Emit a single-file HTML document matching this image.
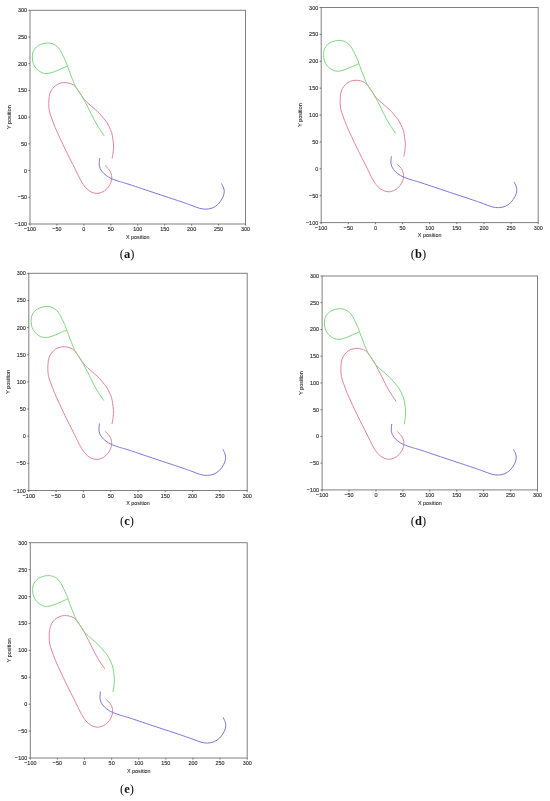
<!DOCTYPE html>
<html><head><meta charset="utf-8"><style>
html,body{margin:0;padding:0;background:#fff;}
body{width:550px;height:801px;overflow:hidden;}
svg.main{display:block;}
.t{font-family:"Liberation Sans",sans-serif;font-size:5.40px;fill:#2e2e2e;stroke:#2e2e2e;stroke-width:0.08px;}
.tk{font-size:5.45px;fill:#2a2a2a;stroke:#2a2a2a;stroke-width:0.12px;}
.cap{font-family:"Liberation Serif",serif;font-size:12.5px;fill:#111;}
</style></head><body>
<svg class="main" width="550" height="801" viewBox="0 0 550 801">
<svg x="30.00" y="10.30" width="215.50" height="213.70" viewBox="0 0 400 400" preserveAspectRatio="none" overflow="visible">
<path d="M139.3 290.8 C140.6 292.1 145.4 295.9 147.4 299.0 C149.5 302.0 151.0 305.3 151.5 309.1 C152.0 312.8 151.8 317.3 150.4 321.4 C149.0 325.5 146.2 330.3 143.3 333.5 C140.5 336.8 136.5 339.3 133.1 340.8 C129.8 342.3 126.5 342.9 123.1 342.7 C119.8 342.5 116.3 341.5 112.9 339.7 C109.6 337.8 105.9 334.9 102.9 331.5 C99.9 328.1 97.8 324.7 94.8 319.3 C91.7 313.9 88.1 305.8 84.7 299.0 C81.4 292.2 77.7 284.9 74.5 278.6 C71.4 272.4 69.1 267.9 66.0 261.4 C62.9 255.0 59.2 247.0 56.0 240.0 C52.8 233.0 49.4 225.8 46.7 219.4 C44.1 213.0 41.9 206.9 40.1 201.7 C38.2 196.5 36.7 192.6 35.8 188.0 C34.9 183.5 34.9 179.1 34.9 174.6 C34.9 170.1 35.1 165.0 35.8 161.0 C36.5 157.0 37.6 153.7 39.1 150.7 C40.7 147.7 42.7 145.3 45.1 143.0 C47.4 140.8 50.5 138.7 53.4 137.4 C56.3 136.2 59.6 135.6 62.7 135.4 C65.8 135.2 69.0 135.6 72.0 136.3 C74.9 137.0 78.2 138.3 80.5 139.7 C82.7 141.1 83.8 142.7 85.5 144.7 C87.2 146.7 88.8 149.2 90.5 151.6 C92.2 154.1 94.0 156.7 95.7 159.3 C97.4 161.8 98.7 164.6 100.7 166.9 C102.6 169.3 105.1 171.6 107.4 173.7 C109.6 175.8 112.0 177.7 114.2 179.6 C116.5 181.6 118.4 183.3 120.9 185.6 C123.4 187.9 126.7 190.6 129.3 193.3 C131.8 196.0 134.0 199.0 136.1 201.7 C138.3 204.3 140.4 206.4 142.2 209.2 C144.0 211.9 145.3 214.7 146.9 217.9 C148.4 221.2 150.4 225.1 151.5 228.8 C152.6 232.4 153.0 235.9 153.5 239.8 C154.1 243.7 154.9 248.0 155.0 252.1 C155.2 256.2 154.9 260.0 154.5 264.2 C154.0 268.5 152.8 275.3 152.4 277.5" fill="none" stroke="#e48496" stroke-width="1.0" vector-effect="non-scaling-stroke"/>
<path d="M69.5 104.4 C67.2 105.4 59.9 108.5 55.6 110.4 C51.4 112.2 47.9 114.1 43.9 115.4 C40.0 116.7 35.8 118.2 32.1 118.4 C28.4 118.6 25.3 118.2 21.9 116.7 C18.5 115.2 14.5 112.3 11.9 109.4 C9.2 106.5 7.2 103.0 5.9 99.3 C4.7 95.7 4.3 91.1 4.3 87.4 C4.3 83.7 4.7 80.4 5.9 77.3 C7.2 74.2 9.5 71.0 11.9 68.7 C14.2 66.4 16.8 65.0 20.2 63.7 C23.6 62.4 28.4 61.2 32.1 61.1 C35.7 60.9 39.0 61.6 42.1 62.7 C45.2 63.9 48.2 65.8 50.6 68.0 C53.0 70.1 54.7 72.7 56.6 75.6 C58.4 78.6 60.0 82.6 61.6 85.7 C63.1 88.8 64.5 91.2 65.8 94.3 C67.2 97.4 67.9 99.9 69.5 104.4 C71.2 108.9 73.7 115.9 75.8 121.4 C77.9 126.9 80.4 133.2 82.2 137.3 C83.9 141.3 85.0 143.1 86.4 145.7 C87.9 148.2 89.3 150.0 90.9 152.4 C92.4 154.8 94.1 157.3 95.7 160.0 C97.3 162.7 98.7 165.1 100.7 168.6 C102.6 172.2 105.1 176.9 107.4 181.3 C109.6 185.7 112.1 190.7 114.2 195.0 C116.3 199.2 117.8 202.6 120.0 206.7 C122.2 210.8 124.5 214.8 127.4 219.4 C130.3 224.0 135.7 231.9 137.4 234.4" fill="none" stroke="#80d680" stroke-width="1.0" vector-effect="non-scaling-stroke"/>
<path d="M129.3 276.6 C129.2 278.9 128.0 286.7 128.7 290.8 C129.3 294.8 131.0 298.0 133.1 301.0 C135.2 304.1 138.2 306.7 141.3 309.1 C144.4 311.4 147.5 313.4 151.5 315.2 C155.6 317.1 159.9 318.4 165.6 320.3 C171.3 322.1 174.7 322.8 185.8 326.4 C196.9 330.1 216.7 336.9 232.2 342.1 C247.6 347.3 267.4 353.8 278.5 357.6 C289.6 361.4 292.7 362.5 298.7 364.7 C304.8 366.9 310.2 369.4 314.9 370.7 C319.6 371.9 323.1 372.3 327.1 372.2 C331.2 372.0 335.5 371.3 339.2 369.7 C342.9 368.2 346.3 365.7 349.4 362.7 C352.4 359.6 355.5 355.1 357.3 351.4 C359.2 347.8 360.2 343.7 360.5 340.6 C360.8 337.5 360.2 335.5 359.4 332.8 C358.6 330.0 356.1 325.6 355.5 324.2" fill="none" stroke="#7b76de" stroke-width="1.0" vector-effect="non-scaling-stroke"/>
</svg>
<rect x="30.00" y="10.30" width="215.50" height="213.70" fill="none" stroke="#808080" stroke-width="1"/>
<path d="M30.00 224.00v1.6 M30.00 224.00h-1.6 M56.94 224.00v1.6 M30.00 197.29h-1.6 M83.88 224.00v1.6 M30.00 170.57h-1.6 M110.81 224.00v1.6 M30.00 143.86h-1.6 M137.75 224.00v1.6 M30.00 117.15h-1.6 M164.69 224.00v1.6 M30.00 90.44h-1.6 M191.62 224.00v1.6 M30.00 63.73h-1.6 M218.56 224.00v1.6 M30.00 37.01h-1.6 M245.50 224.00v1.6 M30.00 10.30h-1.6" stroke="#555" stroke-width="0.8" fill="none"/>
<text transform="translate(30.00 231.00) scale(1 1.15)" text-anchor="middle" class="t tk">−100</text>
<text transform="translate(27.00 226.00) scale(1 1.15)" text-anchor="end" class="t tk">−100</text>
<text transform="translate(56.94 231.00) scale(1 1.15)" text-anchor="middle" class="t tk">−50</text>
<text transform="translate(27.00 199.29) scale(1 1.15)" text-anchor="end" class="t tk">−50</text>
<text transform="translate(83.88 231.00) scale(1 1.15)" text-anchor="middle" class="t tk">0</text>
<text transform="translate(27.00 172.57) scale(1 1.15)" text-anchor="end" class="t tk">0</text>
<text transform="translate(110.81 231.00) scale(1 1.15)" text-anchor="middle" class="t tk">50</text>
<text transform="translate(27.00 145.86) scale(1 1.15)" text-anchor="end" class="t tk">50</text>
<text transform="translate(137.75 231.00) scale(1 1.15)" text-anchor="middle" class="t tk">100</text>
<text transform="translate(27.00 119.15) scale(1 1.15)" text-anchor="end" class="t tk">100</text>
<text transform="translate(164.69 231.00) scale(1 1.15)" text-anchor="middle" class="t tk">150</text>
<text transform="translate(27.00 92.44) scale(1 1.15)" text-anchor="end" class="t tk">150</text>
<text transform="translate(191.62 231.00) scale(1 1.15)" text-anchor="middle" class="t tk">200</text>
<text transform="translate(27.00 65.73) scale(1 1.15)" text-anchor="end" class="t tk">200</text>
<text transform="translate(218.56 231.00) scale(1 1.15)" text-anchor="middle" class="t tk">250</text>
<text transform="translate(27.00 39.01) scale(1 1.15)" text-anchor="end" class="t tk">250</text>
<text transform="translate(245.50 231.00) scale(1 1.15)" text-anchor="middle" class="t tk">300</text>
<text transform="translate(27.00 12.30) scale(1 1.15)" text-anchor="end" class="t tk">300</text>
<text x="137.75" y="238.70" text-anchor="middle" class="t">X position</text>
<text transform="translate(10.80 117.15) rotate(-90)" text-anchor="middle" class="t">Y position</text>
<text x="127.00" y="257.80" text-anchor="middle" class="cap">(<tspan font-weight="bold">a</tspan>)</text>
<svg x="321.20" y="7.50" width="217.00" height="215.10" viewBox="0 0 400 400" preserveAspectRatio="none" overflow="visible">
<path d="M139.3 290.8 C140.6 292.1 145.4 295.9 147.4 299.0 C149.5 302.0 151.0 305.3 151.5 309.1 C152.0 312.8 151.8 317.3 150.4 321.4 C149.0 325.5 146.2 330.3 143.3 333.5 C140.5 336.8 136.5 339.3 133.1 340.8 C129.8 342.3 126.5 342.9 123.1 342.7 C119.8 342.5 116.3 341.5 112.9 339.7 C109.6 337.8 105.9 334.9 102.9 331.5 C99.9 328.1 97.8 324.7 94.8 319.3 C91.7 313.9 88.1 305.8 84.7 299.0 C81.4 292.2 77.7 284.9 74.5 278.6 C71.4 272.4 69.1 267.9 66.0 261.4 C62.9 255.0 59.2 247.0 56.0 240.0 C52.8 233.0 49.4 225.8 46.7 219.4 C44.1 213.0 41.9 206.9 40.1 201.7 C38.2 196.5 36.7 192.6 35.8 188.0 C34.9 183.5 34.9 179.1 34.9 174.6 C34.9 170.1 35.1 165.0 35.8 161.0 C36.5 157.0 37.6 153.7 39.1 150.7 C40.7 147.7 42.7 145.3 45.1 143.0 C47.4 140.8 50.5 138.7 53.4 137.4 C56.3 136.2 59.6 135.6 62.7 135.4 C65.8 135.2 69.0 135.6 72.0 136.3 C74.9 137.0 78.2 138.3 80.5 139.7 C82.7 141.1 83.8 142.7 85.5 144.7 C87.2 146.7 88.8 149.2 90.5 151.6 C92.2 154.1 94.0 156.7 95.7 159.3 C97.4 161.8 98.7 164.6 100.7 166.9 C102.6 169.3 105.1 171.6 107.4 173.7 C109.6 175.8 112.0 177.7 114.2 179.6 C116.5 181.6 118.4 183.3 120.9 185.6 C123.4 187.9 126.7 190.6 129.3 193.3 C131.8 196.0 134.0 199.0 136.1 201.7 C138.3 204.3 140.4 206.4 142.2 209.2 C144.0 211.9 145.3 214.7 146.9 217.9 C148.4 221.2 150.4 225.1 151.5 228.8 C152.6 232.4 153.0 235.9 153.5 239.8 C154.1 243.7 154.9 248.0 155.0 252.1 C155.2 256.2 154.9 260.0 154.5 264.2 C154.0 268.5 152.8 275.3 152.4 277.5" fill="none" stroke="#e48496" stroke-width="1.0" vector-effect="non-scaling-stroke"/>
<path d="M69.5 104.4 C67.2 105.4 59.9 108.5 55.6 110.4 C51.4 112.2 47.9 114.1 43.9 115.4 C40.0 116.7 35.8 118.2 32.1 118.4 C28.4 118.6 25.3 118.2 21.9 116.7 C18.5 115.2 14.5 112.3 11.9 109.4 C9.2 106.5 7.2 103.0 5.9 99.3 C4.7 95.7 4.3 91.1 4.3 87.4 C4.3 83.7 4.7 80.4 5.9 77.3 C7.2 74.2 9.5 71.0 11.9 68.7 C14.2 66.4 16.8 65.0 20.2 63.7 C23.6 62.4 28.4 61.2 32.1 61.1 C35.7 60.9 39.0 61.6 42.1 62.7 C45.2 63.9 48.2 65.8 50.6 68.0 C53.0 70.1 54.7 72.7 56.6 75.6 C58.4 78.6 60.0 82.6 61.6 85.7 C63.1 88.8 64.5 91.2 65.8 94.3 C67.2 97.4 67.9 99.9 69.5 104.4 C71.2 108.9 73.7 115.9 75.8 121.4 C77.9 126.9 80.4 133.2 82.2 137.3 C83.9 141.3 85.0 143.1 86.4 145.7 C87.9 148.2 89.3 150.0 90.9 152.4 C92.4 154.8 94.1 157.3 95.7 160.0 C97.3 162.7 98.7 165.1 100.7 168.6 C102.6 172.2 105.1 176.9 107.4 181.3 C109.6 185.7 112.1 190.7 114.2 195.0 C116.3 199.2 117.8 202.6 120.0 206.7 C122.2 210.8 124.5 214.8 127.4 219.4 C130.3 224.0 135.7 231.9 137.4 234.4" fill="none" stroke="#80d680" stroke-width="1.0" vector-effect="non-scaling-stroke"/>
<path d="M129.3 276.6 C129.2 278.9 128.0 286.7 128.7 290.8 C129.3 294.8 131.0 298.0 133.1 301.0 C135.2 304.1 138.2 306.7 141.3 309.1 C144.4 311.4 147.5 313.4 151.5 315.2 C155.6 317.1 159.9 318.4 165.6 320.3 C171.3 322.1 174.7 322.8 185.8 326.4 C196.9 330.1 216.7 336.9 232.2 342.1 C247.6 347.3 267.4 353.8 278.5 357.6 C289.6 361.4 292.7 362.5 298.7 364.7 C304.8 366.9 310.2 369.4 314.9 370.7 C319.6 371.9 323.1 372.3 327.1 372.2 C331.2 372.0 335.5 371.3 339.2 369.7 C342.9 368.2 346.3 365.7 349.4 362.7 C352.4 359.6 355.5 355.1 357.3 351.4 C359.2 347.8 360.2 343.7 360.5 340.6 C360.8 337.5 360.2 335.5 359.4 332.8 C358.6 330.0 356.1 325.6 355.5 324.2" fill="none" stroke="#7b76de" stroke-width="1.0" vector-effect="non-scaling-stroke"/>
</svg>
<rect x="321.20" y="7.50" width="217.00" height="215.10" fill="none" stroke="#808080" stroke-width="1"/>
<path d="M321.20 222.60v1.6 M321.20 222.60h-1.6 M348.32 222.60v1.6 M321.20 195.71h-1.6 M375.45 222.60v1.6 M321.20 168.82h-1.6 M402.58 222.60v1.6 M321.20 141.94h-1.6 M429.70 222.60v1.6 M321.20 115.05h-1.6 M456.83 222.60v1.6 M321.20 88.16h-1.6 M483.95 222.60v1.6 M321.20 61.28h-1.6 M511.08 222.60v1.6 M321.20 34.39h-1.6 M538.20 222.60v1.6 M321.20 7.50h-1.6" stroke="#555" stroke-width="0.8" fill="none"/>
<text transform="translate(321.20 229.60) scale(1 1.15)" text-anchor="middle" class="t tk">−100</text>
<text transform="translate(318.20 224.60) scale(1 1.15)" text-anchor="end" class="t tk">−100</text>
<text transform="translate(348.32 229.60) scale(1 1.15)" text-anchor="middle" class="t tk">−50</text>
<text transform="translate(318.20 197.71) scale(1 1.15)" text-anchor="end" class="t tk">−50</text>
<text transform="translate(375.45 229.60) scale(1 1.15)" text-anchor="middle" class="t tk">0</text>
<text transform="translate(318.20 170.82) scale(1 1.15)" text-anchor="end" class="t tk">0</text>
<text transform="translate(402.58 229.60) scale(1 1.15)" text-anchor="middle" class="t tk">50</text>
<text transform="translate(318.20 143.94) scale(1 1.15)" text-anchor="end" class="t tk">50</text>
<text transform="translate(429.70 229.60) scale(1 1.15)" text-anchor="middle" class="t tk">100</text>
<text transform="translate(318.20 117.05) scale(1 1.15)" text-anchor="end" class="t tk">100</text>
<text transform="translate(456.83 229.60) scale(1 1.15)" text-anchor="middle" class="t tk">150</text>
<text transform="translate(318.20 90.16) scale(1 1.15)" text-anchor="end" class="t tk">150</text>
<text transform="translate(483.95 229.60) scale(1 1.15)" text-anchor="middle" class="t tk">200</text>
<text transform="translate(318.20 63.28) scale(1 1.15)" text-anchor="end" class="t tk">200</text>
<text transform="translate(511.08 229.60) scale(1 1.15)" text-anchor="middle" class="t tk">250</text>
<text transform="translate(318.20 36.39) scale(1 1.15)" text-anchor="end" class="t tk">250</text>
<text transform="translate(538.20 229.60) scale(1 1.15)" text-anchor="middle" class="t tk">300</text>
<text transform="translate(318.20 9.50) scale(1 1.15)" text-anchor="end" class="t tk">300</text>
<text x="429.70" y="237.30" text-anchor="middle" class="t">X position</text>
<text transform="translate(302.00 115.05) rotate(-90)" text-anchor="middle" class="t">Y position</text>
<text x="418.50" y="257.80" text-anchor="middle" class="cap">(<tspan font-weight="bold">b</tspan>)</text>
<svg x="28.80" y="273.30" width="218.40" height="217.20" viewBox="0 0 400 400" preserveAspectRatio="none" overflow="visible">
<path d="M139.3 290.8 C140.6 292.1 145.4 295.9 147.4 299.0 C149.5 302.0 151.0 305.3 151.5 309.1 C152.0 312.8 151.8 317.3 150.4 321.4 C149.0 325.5 146.2 330.3 143.3 333.5 C140.5 336.8 136.5 339.3 133.1 340.8 C129.8 342.3 126.5 342.9 123.1 342.7 C119.8 342.5 116.3 341.5 112.9 339.7 C109.6 337.8 105.9 334.9 102.9 331.5 C99.9 328.1 97.8 324.7 94.8 319.3 C91.7 313.9 88.1 305.8 84.7 299.0 C81.4 292.2 77.7 284.9 74.5 278.6 C71.4 272.4 69.1 267.9 66.0 261.4 C62.9 255.0 59.2 247.0 56.0 240.0 C52.8 233.0 49.4 225.8 46.7 219.4 C44.1 213.0 41.9 206.9 40.1 201.7 C38.2 196.5 36.7 192.6 35.8 188.0 C34.9 183.5 34.9 179.1 34.9 174.6 C34.9 170.1 35.1 165.0 35.8 161.0 C36.5 157.0 37.6 153.7 39.1 150.7 C40.7 147.7 42.7 145.3 45.1 143.0 C47.4 140.8 50.5 138.7 53.4 137.4 C56.3 136.2 59.6 135.6 62.7 135.4 C65.8 135.2 69.0 135.6 72.0 136.3 C74.9 137.0 78.2 138.3 80.5 139.7 C82.7 141.1 83.8 142.7 85.5 144.7 C87.2 146.7 88.8 149.2 90.5 151.6 C92.2 154.1 94.0 156.7 95.7 159.3 C97.4 161.8 98.7 164.6 100.7 166.9 C102.6 169.3 105.1 171.6 107.4 173.7 C109.6 175.8 112.0 177.7 114.2 179.6 C116.5 181.6 118.4 183.3 120.9 185.6 C123.4 187.9 126.7 190.6 129.3 193.3 C131.8 196.0 134.0 199.0 136.1 201.7 C138.3 204.3 140.4 206.4 142.2 209.2 C144.0 211.9 145.3 214.7 146.9 217.9 C148.4 221.2 150.4 225.1 151.5 228.8 C152.6 232.4 153.0 235.9 153.5 239.8 C154.1 243.7 154.9 248.0 155.0 252.1 C155.2 256.2 154.9 260.0 154.5 264.2 C154.0 268.5 152.8 275.3 152.4 277.5" fill="none" stroke="#e48496" stroke-width="1.0" vector-effect="non-scaling-stroke"/>
<path d="M69.5 104.4 C67.2 105.4 59.9 108.5 55.6 110.4 C51.4 112.2 47.9 114.1 43.9 115.4 C40.0 116.7 35.8 118.2 32.1 118.4 C28.4 118.6 25.3 118.2 21.9 116.7 C18.5 115.2 14.5 112.3 11.9 109.4 C9.2 106.5 7.2 103.0 5.9 99.3 C4.7 95.7 4.3 91.1 4.3 87.4 C4.3 83.7 4.7 80.4 5.9 77.3 C7.2 74.2 9.5 71.0 11.9 68.7 C14.2 66.4 16.8 65.0 20.2 63.7 C23.6 62.4 28.4 61.2 32.1 61.1 C35.7 60.9 39.0 61.6 42.1 62.7 C45.2 63.9 48.2 65.8 50.6 68.0 C53.0 70.1 54.7 72.7 56.6 75.6 C58.4 78.6 60.0 82.6 61.6 85.7 C63.1 88.8 64.5 91.2 65.8 94.3 C67.2 97.4 67.9 99.9 69.5 104.4 C71.2 108.9 73.7 115.9 75.8 121.4 C77.9 126.9 80.4 133.2 82.2 137.3 C83.9 141.3 85.0 143.1 86.4 145.7 C87.9 148.2 89.3 150.0 90.9 152.4 C92.4 154.8 94.1 157.3 95.7 160.0 C97.3 162.7 98.7 165.1 100.7 168.6 C102.6 172.2 105.1 176.9 107.4 181.3 C109.6 185.7 112.1 190.7 114.2 195.0 C116.3 199.2 117.8 202.6 120.0 206.7 C122.2 210.8 124.5 214.8 127.4 219.4 C130.3 224.0 135.7 231.9 137.4 234.4" fill="none" stroke="#80d680" stroke-width="1.0" vector-effect="non-scaling-stroke"/>
<path d="M129.3 276.6 C129.2 278.9 128.0 286.7 128.7 290.8 C129.3 294.8 131.0 298.0 133.1 301.0 C135.2 304.1 138.2 306.7 141.3 309.1 C144.4 311.4 147.5 313.4 151.5 315.2 C155.6 317.1 159.9 318.4 165.6 320.3 C171.3 322.1 174.7 322.8 185.8 326.4 C196.9 330.1 216.7 336.9 232.2 342.1 C247.6 347.3 267.4 353.8 278.5 357.6 C289.6 361.4 292.7 362.5 298.7 364.7 C304.8 366.9 310.2 369.4 314.9 370.7 C319.6 371.9 323.1 372.3 327.1 372.2 C331.2 372.0 335.5 371.3 339.2 369.7 C342.9 368.2 346.3 365.7 349.4 362.7 C352.4 359.6 355.5 355.1 357.3 351.4 C359.2 347.8 360.2 343.7 360.5 340.6 C360.8 337.5 360.2 335.5 359.4 332.8 C358.6 330.0 356.1 325.6 355.5 324.2" fill="none" stroke="#7b76de" stroke-width="1.0" vector-effect="non-scaling-stroke"/>
</svg>
<rect x="28.80" y="273.30" width="218.40" height="217.20" fill="none" stroke="#808080" stroke-width="1"/>
<path d="M28.80 490.50v1.6 M28.80 490.50h-1.6 M56.10 490.50v1.6 M28.80 463.35h-1.6 M83.40 490.50v1.6 M28.80 436.20h-1.6 M110.70 490.50v1.6 M28.80 409.05h-1.6 M138.00 490.50v1.6 M28.80 381.90h-1.6 M165.30 490.50v1.6 M28.80 354.75h-1.6 M192.60 490.50v1.6 M28.80 327.60h-1.6 M219.90 490.50v1.6 M28.80 300.45h-1.6 M247.20 490.50v1.6 M28.80 273.30h-1.6" stroke="#555" stroke-width="0.8" fill="none"/>
<text transform="translate(28.80 497.50) scale(1 1.15)" text-anchor="middle" class="t tk">−100</text>
<text transform="translate(25.80 492.50) scale(1 1.15)" text-anchor="end" class="t tk">−100</text>
<text transform="translate(56.10 497.50) scale(1 1.15)" text-anchor="middle" class="t tk">−50</text>
<text transform="translate(25.80 465.35) scale(1 1.15)" text-anchor="end" class="t tk">−50</text>
<text transform="translate(83.40 497.50) scale(1 1.15)" text-anchor="middle" class="t tk">0</text>
<text transform="translate(25.80 438.20) scale(1 1.15)" text-anchor="end" class="t tk">0</text>
<text transform="translate(110.70 497.50) scale(1 1.15)" text-anchor="middle" class="t tk">50</text>
<text transform="translate(25.80 411.05) scale(1 1.15)" text-anchor="end" class="t tk">50</text>
<text transform="translate(138.00 497.50) scale(1 1.15)" text-anchor="middle" class="t tk">100</text>
<text transform="translate(25.80 383.90) scale(1 1.15)" text-anchor="end" class="t tk">100</text>
<text transform="translate(165.30 497.50) scale(1 1.15)" text-anchor="middle" class="t tk">150</text>
<text transform="translate(25.80 356.75) scale(1 1.15)" text-anchor="end" class="t tk">150</text>
<text transform="translate(192.60 497.50) scale(1 1.15)" text-anchor="middle" class="t tk">200</text>
<text transform="translate(25.80 329.60) scale(1 1.15)" text-anchor="end" class="t tk">200</text>
<text transform="translate(219.90 497.50) scale(1 1.15)" text-anchor="middle" class="t tk">250</text>
<text transform="translate(25.80 302.45) scale(1 1.15)" text-anchor="end" class="t tk">250</text>
<text transform="translate(247.20 497.50) scale(1 1.15)" text-anchor="middle" class="t tk">300</text>
<text transform="translate(25.80 275.30) scale(1 1.15)" text-anchor="end" class="t tk">300</text>
<text x="138.00" y="505.20" text-anchor="middle" class="t">X position</text>
<text transform="translate(9.60 381.90) rotate(-90)" text-anchor="middle" class="t">Y position</text>
<text x="127.00" y="524.80" text-anchor="middle" class="cap">(<tspan font-weight="bold">c</tspan>)</text>
<svg x="322.10" y="276.00" width="215.40" height="213.90" viewBox="0 0 400 400" preserveAspectRatio="none" overflow="visible">
<path d="M139.3 290.8 C140.6 292.1 145.4 295.9 147.4 299.0 C149.5 302.0 151.0 305.3 151.5 309.1 C152.0 312.8 151.8 317.3 150.4 321.4 C149.0 325.5 146.2 330.3 143.3 333.5 C140.5 336.8 136.5 339.3 133.1 340.8 C129.8 342.3 126.5 342.9 123.1 342.7 C119.8 342.5 116.3 341.5 112.9 339.7 C109.6 337.8 105.9 334.9 102.9 331.5 C99.9 328.1 97.8 324.7 94.8 319.3 C91.7 313.9 88.1 305.8 84.7 299.0 C81.4 292.2 77.7 284.9 74.5 278.6 C71.4 272.4 69.1 267.9 66.0 261.4 C62.9 255.0 59.2 247.0 56.0 240.0 C52.8 233.0 49.4 225.8 46.7 219.4 C44.1 213.0 41.9 206.9 40.1 201.7 C38.2 196.5 36.7 192.6 35.8 188.0 C34.9 183.5 34.9 179.1 34.9 174.6 C34.9 170.1 35.1 165.0 35.8 161.0 C36.5 157.0 37.6 153.7 39.1 150.7 C40.7 147.7 42.7 145.3 45.1 143.0 C47.4 140.8 50.5 138.7 53.4 137.4 C56.3 136.2 59.6 135.6 62.7 135.4 C65.8 135.2 69.0 135.6 72.0 136.3 C74.9 137.0 78.2 138.3 80.5 139.7 C82.7 141.1 83.8 142.7 85.5 144.7 C87.2 146.7 88.8 149.2 90.5 151.6 C92.2 154.1 94.0 156.5 95.7 159.3 C97.4 162.1 98.7 165.0 100.7 168.6 C102.6 172.3 105.1 176.9 107.4 181.3 C109.6 185.7 112.1 190.7 114.2 195.0 C116.3 199.2 117.8 202.6 120.0 206.7 C122.2 210.8 124.5 214.8 127.4 219.4 C130.3 224.0 135.7 231.9 137.4 234.4" fill="none" stroke="#e48496" stroke-width="1.0" vector-effect="non-scaling-stroke"/>
<path d="M69.5 104.4 C67.2 105.4 59.9 108.5 55.6 110.4 C51.4 112.2 47.9 114.1 43.9 115.4 C40.0 116.7 35.8 118.2 32.1 118.4 C28.4 118.6 25.3 118.2 21.9 116.7 C18.5 115.2 14.5 112.3 11.9 109.4 C9.2 106.5 7.2 103.0 5.9 99.3 C4.7 95.7 4.3 91.1 4.3 87.4 C4.3 83.7 4.7 80.4 5.9 77.3 C7.2 74.2 9.5 71.0 11.9 68.7 C14.2 66.4 16.8 65.0 20.2 63.7 C23.6 62.4 28.4 61.2 32.1 61.1 C35.7 60.9 39.0 61.6 42.1 62.7 C45.2 63.9 48.2 65.8 50.6 68.0 C53.0 70.1 54.7 72.7 56.6 75.6 C58.4 78.6 60.0 82.6 61.6 85.7 C63.1 88.8 64.5 91.2 65.8 94.3 C67.2 97.4 67.9 99.9 69.5 104.4 C71.2 108.9 73.7 115.9 75.8 121.4 C77.9 126.9 80.4 133.2 82.2 137.3 C83.9 141.3 85.0 143.1 86.4 145.7 C87.9 148.2 89.3 150.0 90.9 152.4 C92.4 154.8 94.1 157.6 95.7 160.0 C97.3 162.5 98.7 164.7 100.7 166.9 C102.6 169.2 105.1 171.6 107.4 173.7 C109.6 175.8 112.0 177.7 114.2 179.6 C116.5 181.6 118.4 183.3 120.9 185.6 C123.4 187.9 126.7 190.6 129.3 193.3 C131.8 196.0 134.0 199.0 136.1 201.7 C138.3 204.3 140.4 206.4 142.2 209.2 C144.0 211.9 145.3 214.7 146.9 217.9 C148.4 221.2 150.4 225.1 151.5 228.8 C152.6 232.4 153.0 235.9 153.5 239.8 C154.1 243.7 154.9 248.0 155.0 252.1 C155.2 256.2 154.9 260.0 154.5 264.2 C154.0 268.5 152.8 275.3 152.4 277.5" fill="none" stroke="#80d680" stroke-width="1.0" vector-effect="non-scaling-stroke"/>
<path d="M129.3 276.6 C129.2 278.9 128.0 286.7 128.7 290.8 C129.3 294.8 131.0 298.0 133.1 301.0 C135.2 304.1 138.2 306.7 141.3 309.1 C144.4 311.4 147.5 313.4 151.5 315.2 C155.6 317.1 159.9 318.4 165.6 320.3 C171.3 322.1 174.7 322.8 185.8 326.4 C196.9 330.1 216.7 336.9 232.2 342.1 C247.6 347.3 267.4 353.8 278.5 357.6 C289.6 361.4 292.7 362.5 298.7 364.7 C304.8 366.9 310.2 369.4 314.9 370.7 C319.6 371.9 323.1 372.3 327.1 372.2 C331.2 372.0 335.5 371.3 339.2 369.7 C342.9 368.2 346.3 365.7 349.4 362.7 C352.4 359.6 355.5 355.1 357.3 351.4 C359.2 347.8 360.2 343.7 360.5 340.6 C360.8 337.5 360.2 335.5 359.4 332.8 C358.6 330.0 356.1 325.6 355.5 324.2" fill="none" stroke="#7b76de" stroke-width="1.0" vector-effect="non-scaling-stroke"/>
</svg>
<rect x="322.10" y="276.00" width="215.40" height="213.90" fill="none" stroke="#808080" stroke-width="1"/>
<path d="M322.10 489.90v1.6 M322.10 489.90h-1.6 M349.03 489.90v1.6 M322.10 463.16h-1.6 M375.95 489.90v1.6 M322.10 436.42h-1.6 M402.88 489.90v1.6 M322.10 409.69h-1.6 M429.80 489.90v1.6 M322.10 382.95h-1.6 M456.73 489.90v1.6 M322.10 356.21h-1.6 M483.65 489.90v1.6 M322.10 329.48h-1.6 M510.57 489.90v1.6 M322.10 302.74h-1.6 M537.50 489.90v1.6 M322.10 276.00h-1.6" stroke="#555" stroke-width="0.8" fill="none"/>
<text transform="translate(322.10 496.90) scale(1 1.15)" text-anchor="middle" class="t tk">−100</text>
<text transform="translate(319.10 491.90) scale(1 1.15)" text-anchor="end" class="t tk">−100</text>
<text transform="translate(349.03 496.90) scale(1 1.15)" text-anchor="middle" class="t tk">−50</text>
<text transform="translate(319.10 465.16) scale(1 1.15)" text-anchor="end" class="t tk">−50</text>
<text transform="translate(375.95 496.90) scale(1 1.15)" text-anchor="middle" class="t tk">0</text>
<text transform="translate(319.10 438.42) scale(1 1.15)" text-anchor="end" class="t tk">0</text>
<text transform="translate(402.88 496.90) scale(1 1.15)" text-anchor="middle" class="t tk">50</text>
<text transform="translate(319.10 411.69) scale(1 1.15)" text-anchor="end" class="t tk">50</text>
<text transform="translate(429.80 496.90) scale(1 1.15)" text-anchor="middle" class="t tk">100</text>
<text transform="translate(319.10 384.95) scale(1 1.15)" text-anchor="end" class="t tk">100</text>
<text transform="translate(456.73 496.90) scale(1 1.15)" text-anchor="middle" class="t tk">150</text>
<text transform="translate(319.10 358.21) scale(1 1.15)" text-anchor="end" class="t tk">150</text>
<text transform="translate(483.65 496.90) scale(1 1.15)" text-anchor="middle" class="t tk">200</text>
<text transform="translate(319.10 331.48) scale(1 1.15)" text-anchor="end" class="t tk">200</text>
<text transform="translate(510.57 496.90) scale(1 1.15)" text-anchor="middle" class="t tk">250</text>
<text transform="translate(319.10 304.74) scale(1 1.15)" text-anchor="end" class="t tk">250</text>
<text transform="translate(537.50 496.90) scale(1 1.15)" text-anchor="middle" class="t tk">300</text>
<text transform="translate(319.10 278.00) scale(1 1.15)" text-anchor="end" class="t tk">300</text>
<text x="429.80" y="504.60" text-anchor="middle" class="t">X position</text>
<text transform="translate(302.90 382.95) rotate(-90)" text-anchor="middle" class="t">Y position</text>
<text x="418.50" y="524.80" text-anchor="middle" class="cap">(<tspan font-weight="bold">d</tspan>)</text>
<svg x="30.30" y="542.70" width="216.90" height="215.30" viewBox="0 0 400 400" preserveAspectRatio="none" overflow="visible">
<path d="M139.3 290.8 C140.6 292.1 145.4 295.9 147.4 299.0 C149.5 302.0 151.0 305.3 151.5 309.1 C152.0 312.8 151.8 317.3 150.4 321.4 C149.0 325.5 146.2 330.3 143.3 333.5 C140.5 336.8 136.5 339.3 133.1 340.8 C129.8 342.3 126.5 342.9 123.1 342.7 C119.8 342.5 116.3 341.5 112.9 339.7 C109.6 337.8 105.9 334.9 102.9 331.5 C99.9 328.1 97.8 324.7 94.8 319.3 C91.7 313.9 88.1 305.8 84.7 299.0 C81.4 292.2 77.7 284.9 74.5 278.6 C71.4 272.4 69.1 267.9 66.0 261.4 C62.9 255.0 59.2 247.0 56.0 240.0 C52.8 233.0 49.4 225.8 46.7 219.4 C44.1 213.0 41.9 206.9 40.1 201.7 C38.2 196.5 36.7 192.6 35.8 188.0 C34.9 183.5 34.9 179.1 34.9 174.6 C34.9 170.1 35.1 165.0 35.8 161.0 C36.5 157.0 37.6 153.7 39.1 150.7 C40.7 147.7 42.7 145.3 45.1 143.0 C47.4 140.8 50.5 138.7 53.4 137.4 C56.3 136.2 59.6 135.6 62.7 135.4 C65.8 135.2 69.0 135.6 72.0 136.3 C74.9 137.0 78.2 138.3 80.5 139.7 C82.7 141.1 83.8 142.7 85.5 144.7 C87.2 146.7 88.8 149.2 90.5 151.6 C92.2 154.1 94.0 156.5 95.7 159.3 C97.4 162.1 98.7 165.0 100.7 168.6 C102.6 172.3 105.1 176.9 107.4 181.3 C109.6 185.7 112.1 190.7 114.2 195.0 C116.3 199.2 117.8 202.6 120.0 206.7 C122.2 210.8 124.5 214.8 127.4 219.4 C130.3 224.0 135.7 231.9 137.4 234.4" fill="none" stroke="#e48496" stroke-width="1.0" vector-effect="non-scaling-stroke"/>
<path d="M69.5 104.4 C67.2 105.4 59.9 108.5 55.6 110.4 C51.4 112.2 47.9 114.1 43.9 115.4 C40.0 116.7 35.8 118.2 32.1 118.4 C28.4 118.6 25.3 118.2 21.9 116.7 C18.5 115.2 14.5 112.3 11.9 109.4 C9.2 106.5 7.2 103.0 5.9 99.3 C4.7 95.7 4.3 91.1 4.3 87.4 C4.3 83.7 4.7 80.4 5.9 77.3 C7.2 74.2 9.5 71.0 11.9 68.7 C14.2 66.4 16.8 65.0 20.2 63.7 C23.6 62.4 28.4 61.2 32.1 61.1 C35.7 60.9 39.0 61.6 42.1 62.7 C45.2 63.9 48.2 65.8 50.6 68.0 C53.0 70.1 54.7 72.7 56.6 75.6 C58.4 78.6 60.0 82.6 61.6 85.7 C63.1 88.8 64.5 91.2 65.8 94.3 C67.2 97.4 67.9 99.9 69.5 104.4 C71.2 108.9 73.7 115.9 75.8 121.4 C77.9 126.9 80.4 133.2 82.2 137.3 C83.9 141.3 85.0 143.1 86.4 145.7 C87.9 148.2 89.3 150.0 90.9 152.4 C92.4 154.8 94.1 157.6 95.7 160.0 C97.3 162.5 98.7 164.7 100.7 166.9 C102.6 169.2 105.1 171.6 107.4 173.7 C109.6 175.8 112.0 177.7 114.2 179.6 C116.5 181.6 118.4 183.3 120.9 185.6 C123.4 187.9 126.7 190.6 129.3 193.3 C131.8 196.0 134.0 199.0 136.1 201.7 C138.3 204.3 140.4 206.4 142.2 209.2 C144.0 211.9 145.3 214.7 146.9 217.9 C148.4 221.2 150.4 225.1 151.5 228.8 C152.6 232.4 153.0 235.9 153.5 239.8 C154.1 243.7 154.9 248.0 155.0 252.1 C155.2 256.2 154.9 260.0 154.5 264.2 C154.0 268.5 152.8 275.3 152.4 277.5" fill="none" stroke="#80d680" stroke-width="1.0" vector-effect="non-scaling-stroke"/>
<path d="M129.3 276.6 C129.2 278.9 128.0 286.7 128.7 290.8 C129.3 294.8 131.0 298.0 133.1 301.0 C135.2 304.1 138.2 306.7 141.3 309.1 C144.4 311.4 147.5 313.4 151.5 315.2 C155.6 317.1 159.9 318.4 165.6 320.3 C171.3 322.1 174.7 322.8 185.8 326.4 C196.9 330.1 216.7 336.9 232.2 342.1 C247.6 347.3 267.4 353.8 278.5 357.6 C289.6 361.4 292.7 362.5 298.7 364.7 C304.8 366.9 310.2 369.4 314.9 370.7 C319.6 371.9 323.1 372.3 327.1 372.2 C331.2 372.0 335.5 371.3 339.2 369.7 C342.9 368.2 346.3 365.7 349.4 362.7 C352.4 359.6 355.5 355.1 357.3 351.4 C359.2 347.8 360.2 343.7 360.5 340.6 C360.8 337.5 360.2 335.5 359.4 332.8 C358.6 330.0 356.1 325.6 355.5 324.2" fill="none" stroke="#7b76de" stroke-width="1.0" vector-effect="non-scaling-stroke"/>
</svg>
<rect x="30.30" y="542.70" width="216.90" height="215.30" fill="none" stroke="#808080" stroke-width="1"/>
<path d="M30.30 758.00v1.6 M30.30 758.00h-1.6 M57.41 758.00v1.6 M30.30 731.09h-1.6 M84.52 758.00v1.6 M30.30 704.17h-1.6 M111.64 758.00v1.6 M30.30 677.26h-1.6 M138.75 758.00v1.6 M30.30 650.35h-1.6 M165.86 758.00v1.6 M30.30 623.44h-1.6 M192.97 758.00v1.6 M30.30 596.53h-1.6 M220.09 758.00v1.6 M30.30 569.61h-1.6 M247.20 758.00v1.6 M30.30 542.70h-1.6" stroke="#555" stroke-width="0.8" fill="none"/>
<text transform="translate(30.30 765.00) scale(1 1.15)" text-anchor="middle" class="t tk">−100</text>
<text transform="translate(27.30 760.00) scale(1 1.15)" text-anchor="end" class="t tk">−100</text>
<text transform="translate(57.41 765.00) scale(1 1.15)" text-anchor="middle" class="t tk">−50</text>
<text transform="translate(27.30 733.09) scale(1 1.15)" text-anchor="end" class="t tk">−50</text>
<text transform="translate(84.52 765.00) scale(1 1.15)" text-anchor="middle" class="t tk">0</text>
<text transform="translate(27.30 706.17) scale(1 1.15)" text-anchor="end" class="t tk">0</text>
<text transform="translate(111.64 765.00) scale(1 1.15)" text-anchor="middle" class="t tk">50</text>
<text transform="translate(27.30 679.26) scale(1 1.15)" text-anchor="end" class="t tk">50</text>
<text transform="translate(138.75 765.00) scale(1 1.15)" text-anchor="middle" class="t tk">100</text>
<text transform="translate(27.30 652.35) scale(1 1.15)" text-anchor="end" class="t tk">100</text>
<text transform="translate(165.86 765.00) scale(1 1.15)" text-anchor="middle" class="t tk">150</text>
<text transform="translate(27.30 625.44) scale(1 1.15)" text-anchor="end" class="t tk">150</text>
<text transform="translate(192.97 765.00) scale(1 1.15)" text-anchor="middle" class="t tk">200</text>
<text transform="translate(27.30 598.53) scale(1 1.15)" text-anchor="end" class="t tk">200</text>
<text transform="translate(220.09 765.00) scale(1 1.15)" text-anchor="middle" class="t tk">250</text>
<text transform="translate(27.30 571.61) scale(1 1.15)" text-anchor="end" class="t tk">250</text>
<text transform="translate(247.20 765.00) scale(1 1.15)" text-anchor="middle" class="t tk">300</text>
<text transform="translate(27.30 544.70) scale(1 1.15)" text-anchor="end" class="t tk">300</text>
<text x="138.75" y="772.70" text-anchor="middle" class="t">X position</text>
<text transform="translate(11.10 650.35) rotate(-90)" text-anchor="middle" class="t">Y position</text>
<text x="127.00" y="792.80" text-anchor="middle" class="cap">(<tspan font-weight="bold">e</tspan>)</text>
</svg>
</body></html>
